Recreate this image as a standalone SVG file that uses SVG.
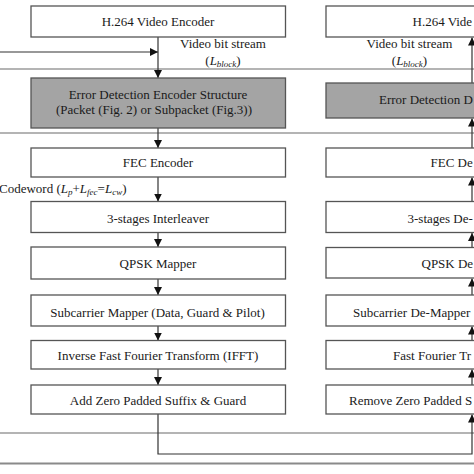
<svg xmlns="http://www.w3.org/2000/svg" width="474" height="474" viewBox="0 0 474 474">
<style>
.box{fill:#fff;stroke:#555;stroke-width:1.3}
.gbox{fill:#a4a4a4;stroke:#555;stroke-width:1.3}
.t{font-family:"Liberation Serif","Times New Roman",serif;font-size:13px;fill:#1a1a1a}
.m{text-anchor:middle}
.i{font-style:italic}
.s{font-size:9px;font-style:italic}
.arr{stroke:#333;stroke-width:1.2;fill:none;marker-end:url(#ah)}
.hl{stroke:#6a6a6a;stroke-width:1.1;fill:none}
.thick{stroke:#8a8a8a;stroke-width:2.2;fill:none}
</style>
<defs>
<marker id="ah" viewBox="0 0 10 10" refX="10" refY="5" markerWidth="8" markerHeight="8" markerUnits="userSpaceOnUse" orient="auto">
<path d="M0,0 L10,5 L0,10 z" fill="#111"/>
</marker>
</defs>
<rect width="474" height="474" fill="#fff"/>

<g id="connectors">
<line class="hl" x1="0" y1="69" x2="474" y2="69"/>
<line class="hl" x1="0" y1="133" x2="474" y2="133"/>
<line class="hl" x1="0" y1="433" x2="474" y2="433"/>
<line class="thick" x1="0" y1="463.5" x2="474" y2="463.5"/>
<line class="arr" x1="0" y1="52" x2="158" y2="52"/>
<line class="arr" x1="158" y1="37" x2="158" y2="78"/>
<line class="arr" x1="158" y1="128" x2="158" y2="148"/>
<line class="arr" x1="158" y1="177" x2="158" y2="201.5"/>
<line class="arr" x1="158" y1="232.5" x2="158" y2="247"/>
<line class="arr" x1="158" y1="279" x2="158" y2="295"/>
<line class="arr" x1="158" y1="326" x2="158" y2="340.5"/>
<line class="arr" x1="158" y1="369" x2="158" y2="385"/>
<path class="arr" d="M158,414 V454 H472 V414.5"/>
<line class="arr" x1="472" y1="385" x2="472" y2="369.5"/>
<line class="arr" x1="472" y1="340.5" x2="472" y2="326.5"/>
<line class="arr" x1="472" y1="295" x2="472" y2="278.5"/>
<line class="arr" x1="472" y1="247.5" x2="472" y2="233"/>
<line class="arr" x1="472" y1="201.5" x2="472" y2="177.5"/>
<line class="arr" x1="472" y1="148" x2="472" y2="118.5"/>
<line class="arr" x1="472" y1="83" x2="472" y2="37.5"/>
</g>

<g id="lbl-bitstream-enc">
<text class="t m" x="223" y="48">Video bit stream</text>
<text class="t m" x="223" y="65">(<tspan class="i">L</tspan><tspan class="s" dy="2">block</tspan><tspan dy="-2">)</tspan></text>
</g>
<g id="lbl-bitstream-dec">
<text class="t m" x="409.5" y="48">Video bit stream</text>
<text class="t m" x="409.5" y="65">(<tspan class="i">L</tspan><tspan class="s" dy="2">block</tspan><tspan dy="-2">)</tspan></text>
</g>
<g id="lbl-codeword">
<text class="t" x="-1" y="193">Codeword (<tspan class="i">L</tspan><tspan class="s" dy="2">p</tspan><tspan dy="-2">+</tspan><tspan class="i">L</tspan><tspan class="s" dy="2">fec</tspan><tspan dy="-2">=</tspan><tspan class="i">L</tspan><tspan class="s" dy="2">cw</tspan><tspan dy="-2">)</tspan></text>
</g>

<g id="enc-h264">
<rect class="box" x="31" y="6" width="254.5" height="31"/>
<text class="t m" x="158" y="26">H.264 Video Encoder</text>
</g>
<g id="enc-ed">
<rect class="gbox" x="31" y="78" width="254.5" height="50"/>
<text class="t m" x="158" y="99">Error Detection Encoder Structure</text>
<text class="t m" x="154" y="113.5">(Packet (Fig. 2) or Subpacket (Fig.3))</text>
</g>
<g id="enc-fec">
<rect class="box" x="31" y="148" width="254.5" height="29"/>
<text class="t m" x="158" y="167">FEC Encoder</text>
</g>
<g id="enc-il">
<rect class="box" x="31" y="201.5" width="254.5" height="31"/>
<text class="t m" x="158" y="222.5">3-stages Interleaver</text>
</g>
<g id="enc-qpsk">
<rect class="box" x="31" y="247" width="254.5" height="32"/>
<text class="t m" x="158" y="268">QPSK Mapper</text>
</g>
<g id="enc-sc">
<rect class="box" x="31" y="295" width="254.5" height="31"/>
<text class="t m" x="157.5" y="316.5">Subcarrier Mapper (Data, Guard &amp; Pilot)</text>
</g>
<g id="enc-ifft">
<rect class="box" x="31" y="340.5" width="254.5" height="28.5"/>
<text class="t m" x="158" y="360">Inverse Fast Fourier Transform (IFFT)</text>
</g>
<g id="enc-zp">
<rect class="box" x="31" y="385" width="254.5" height="29"/>
<text class="t m" x="158" y="405">Add Zero Padded Suffix &amp; Guard</text>
</g>

<g id="dec-h264">
<rect class="box" x="326" y="6" width="160" height="31"/>
<text class="t" x="412.5" y="26">H.264 Vide</text>
</g>
<g id="dec-ed">
<rect class="gbox" x="326" y="83" width="160" height="35"/>
<text class="t" x="379" y="104">Error Detection D</text>
</g>
<g id="dec-fec">
<rect class="box" x="326" y="148" width="160" height="29"/>
<text class="t" x="430.5" y="167">FEC De</text>
</g>
<g id="dec-il">
<rect class="box" x="326" y="201.5" width="160" height="31"/>
<text class="t" x="407.5" y="222.5">3-stages De-</text>
</g>
<g id="dec-qpsk">
<rect class="box" x="326" y="247.5" width="160" height="30.5"/>
<text class="t" x="421.5" y="268">QPSK De</text>
</g>
<g id="dec-sc">
<rect class="box" x="326" y="295" width="160" height="31"/>
<text class="t" x="353" y="316.5">Subcarrier De-Mapper</text>
</g>
<g id="dec-fft">
<rect class="box" x="326" y="340.5" width="160" height="28.5"/>
<text class="t" x="393" y="360">Fast Fourier Tr</text>
</g>
<g id="dec-zp">
<rect class="box" x="326" y="385" width="160" height="29"/>
<text class="t" x="349" y="405">Remove Zero Padded S</text>
</g>
</svg>
